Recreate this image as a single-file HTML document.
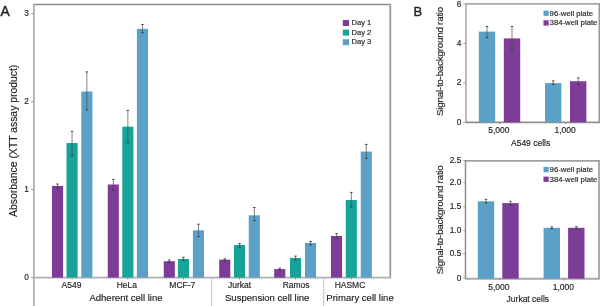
<!DOCTYPE html>
<html><head><meta charset="utf-8"><style>
html,body{margin:0;padding:0;background:#fff;}
svg{display:block;will-change:transform;}
text{font-family:"Liberation Sans", sans-serif;stroke:#222;stroke-width:0.15px;}
</style></head><body>
<svg width="600" height="306" viewBox="0 0 600 306">
<rect x="0" y="0" width="600" height="306" fill="#fff"/>
<line x1="33.10" y1="4.60" x2="391.10" y2="4.60" stroke="#8c8c8c" stroke-width="1.5"/>
<line x1="33.90" y1="4.00" x2="33.90" y2="306.00" stroke="#b0b0b0" stroke-width="1.8"/>
<line x1="390.30" y1="4.00" x2="390.30" y2="277.60" stroke="#9a9a9a" stroke-width="1.8"/>
<line x1="33.10" y1="277.70" x2="391.10" y2="277.70" stroke="#b0b0b0" stroke-width="1.8"/>
<line x1="211.60" y1="279.00" x2="211.60" y2="306.00" stroke="#d0d0d0" stroke-width="1.4"/>
<line x1="323.60" y1="279.00" x2="323.60" y2="306.00" stroke="#d0d0d0" stroke-width="1.4"/>
<line x1="31.20" y1="277.60" x2="33.50" y2="277.60" stroke="#999" stroke-width="1"/>
<text x="28.80" y="280.10" font-size="8.3" text-anchor="end" fill="#222" >0</text>
<line x1="31.20" y1="189.60" x2="33.50" y2="189.60" stroke="#999" stroke-width="1"/>
<text x="28.80" y="192.10" font-size="8.3" text-anchor="end" fill="#222" >1</text>
<line x1="31.20" y1="101.60" x2="33.50" y2="101.60" stroke="#999" stroke-width="1"/>
<text x="28.80" y="104.10" font-size="8.3" text-anchor="end" fill="#222" >2</text>
<line x1="31.20" y1="13.60" x2="33.50" y2="13.60" stroke="#999" stroke-width="1"/>
<text x="28.80" y="16.10" font-size="8.3" text-anchor="end" fill="#222" >3</text>
<rect x="52.00" y="185.90" width="11.10" height="91.70" fill="#7c3c98"/>
<rect x="66.50" y="143.00" width="11.10" height="134.60" fill="#17a397"/>
<rect x="81.30" y="91.50" width="11.10" height="186.10" fill="#5ba1c7"/>
<line x1="57.55" y1="184.00" x2="57.55" y2="188.00" stroke="#4a4a4a" stroke-width="0.7"/>
<line x1="56.35" y1="184.00" x2="58.75" y2="184.00" stroke="#333" stroke-width="0.9"/>
<line x1="56.35" y1="188.00" x2="58.75" y2="188.00" stroke="#333" stroke-width="0.9"/>
<line x1="72.05" y1="131.40" x2="72.05" y2="155.60" stroke="#4a4a4a" stroke-width="0.7"/>
<line x1="70.85" y1="131.40" x2="73.25" y2="131.40" stroke="#333" stroke-width="0.9"/>
<line x1="70.85" y1="155.60" x2="73.25" y2="155.60" stroke="#333" stroke-width="0.9"/>
<line x1="86.85" y1="71.90" x2="86.85" y2="110.00" stroke="#4a4a4a" stroke-width="0.7"/>
<line x1="85.65" y1="71.90" x2="88.05" y2="71.90" stroke="#333" stroke-width="0.9"/>
<line x1="85.65" y1="110.00" x2="88.05" y2="110.00" stroke="#333" stroke-width="0.9"/>
<line x1="72.05" y1="277.60" x2="72.05" y2="279.40" stroke="#8a8a8a" stroke-width="1"/>
<text x="71.50" y="288.00" font-size="8.5" text-anchor="middle" fill="#222" >A549</text>
<rect x="107.75" y="184.50" width="11.10" height="93.10" fill="#7c3c98"/>
<rect x="122.30" y="126.70" width="11.10" height="150.90" fill="#17a397"/>
<rect x="136.90" y="28.90" width="11.10" height="248.70" fill="#5ba1c7"/>
<line x1="113.30" y1="179.40" x2="113.30" y2="190.00" stroke="#4a4a4a" stroke-width="0.7"/>
<line x1="112.10" y1="179.40" x2="114.50" y2="179.40" stroke="#333" stroke-width="0.9"/>
<line x1="112.10" y1="190.00" x2="114.50" y2="190.00" stroke="#333" stroke-width="0.9"/>
<line x1="127.85" y1="110.40" x2="127.85" y2="142.60" stroke="#4a4a4a" stroke-width="0.7"/>
<line x1="126.65" y1="110.40" x2="129.05" y2="110.40" stroke="#333" stroke-width="0.9"/>
<line x1="126.65" y1="142.60" x2="129.05" y2="142.60" stroke="#333" stroke-width="0.9"/>
<line x1="142.45" y1="24.50" x2="142.45" y2="32.70" stroke="#4a4a4a" stroke-width="0.7"/>
<line x1="141.25" y1="24.50" x2="143.65" y2="24.50" stroke="#333" stroke-width="0.9"/>
<line x1="141.25" y1="32.70" x2="143.65" y2="32.70" stroke="#333" stroke-width="0.9"/>
<line x1="127.85" y1="277.60" x2="127.85" y2="279.40" stroke="#8a8a8a" stroke-width="1"/>
<text x="126.80" y="288.00" font-size="8.5" text-anchor="middle" fill="#222" >HeLa</text>
<rect x="163.75" y="261.20" width="11.10" height="16.40" fill="#7c3c98"/>
<rect x="177.90" y="259.00" width="11.10" height="18.60" fill="#17a397"/>
<rect x="192.90" y="230.30" width="11.10" height="47.30" fill="#5ba1c7"/>
<line x1="169.30" y1="260.00" x2="169.30" y2="262.50" stroke="#4a4a4a" stroke-width="0.7"/>
<line x1="168.10" y1="260.00" x2="170.50" y2="260.00" stroke="#333" stroke-width="0.9"/>
<line x1="168.10" y1="262.50" x2="170.50" y2="262.50" stroke="#333" stroke-width="0.9"/>
<line x1="183.45" y1="257.30" x2="183.45" y2="260.30" stroke="#4a4a4a" stroke-width="0.7"/>
<line x1="182.25" y1="257.30" x2="184.65" y2="257.30" stroke="#333" stroke-width="0.9"/>
<line x1="182.25" y1="260.30" x2="184.65" y2="260.30" stroke="#333" stroke-width="0.9"/>
<line x1="198.45" y1="224.20" x2="198.45" y2="236.50" stroke="#4a4a4a" stroke-width="0.7"/>
<line x1="197.25" y1="224.20" x2="199.65" y2="224.20" stroke="#333" stroke-width="0.9"/>
<line x1="197.25" y1="236.50" x2="199.65" y2="236.50" stroke="#333" stroke-width="0.9"/>
<line x1="183.45" y1="277.60" x2="183.45" y2="279.40" stroke="#8a8a8a" stroke-width="1"/>
<text x="182.35" y="288.00" font-size="8.5" text-anchor="middle" fill="#222" >MCF-7</text>
<rect x="219.20" y="259.60" width="11.10" height="18.00" fill="#7c3c98"/>
<rect x="234.00" y="245.00" width="11.10" height="32.60" fill="#17a397"/>
<rect x="248.75" y="215.30" width="11.10" height="62.30" fill="#5ba1c7"/>
<line x1="224.75" y1="258.80" x2="224.75" y2="260.60" stroke="#4a4a4a" stroke-width="0.7"/>
<line x1="223.55" y1="258.80" x2="225.95" y2="258.80" stroke="#333" stroke-width="0.9"/>
<line x1="223.55" y1="260.60" x2="225.95" y2="260.60" stroke="#333" stroke-width="0.9"/>
<line x1="239.55" y1="243.60" x2="239.55" y2="247.60" stroke="#4a4a4a" stroke-width="0.7"/>
<line x1="238.35" y1="243.60" x2="240.75" y2="243.60" stroke="#333" stroke-width="0.9"/>
<line x1="238.35" y1="247.60" x2="240.75" y2="247.60" stroke="#333" stroke-width="0.9"/>
<line x1="254.30" y1="207.50" x2="254.30" y2="220.50" stroke="#4a4a4a" stroke-width="0.7"/>
<line x1="253.10" y1="207.50" x2="255.50" y2="207.50" stroke="#333" stroke-width="0.9"/>
<line x1="253.10" y1="220.50" x2="255.50" y2="220.50" stroke="#333" stroke-width="0.9"/>
<line x1="239.55" y1="277.60" x2="239.55" y2="279.40" stroke="#8a8a8a" stroke-width="1"/>
<text x="239.55" y="288.00" font-size="8.5" text-anchor="middle" fill="#222" >Jurkat</text>
<rect x="274.20" y="269.10" width="11.10" height="8.50" fill="#7c3c98"/>
<rect x="290.00" y="258.00" width="11.10" height="19.60" fill="#17a397"/>
<rect x="305.00" y="243.00" width="11.10" height="34.60" fill="#5ba1c7"/>
<line x1="279.75" y1="268.20" x2="279.75" y2="270.10" stroke="#4a4a4a" stroke-width="0.7"/>
<line x1="278.55" y1="268.20" x2="280.95" y2="268.20" stroke="#333" stroke-width="0.9"/>
<line x1="278.55" y1="270.10" x2="280.95" y2="270.10" stroke="#333" stroke-width="0.9"/>
<line x1="295.55" y1="256.10" x2="295.55" y2="260.00" stroke="#4a4a4a" stroke-width="0.7"/>
<line x1="294.35" y1="256.10" x2="296.75" y2="256.10" stroke="#333" stroke-width="0.9"/>
<line x1="294.35" y1="260.00" x2="296.75" y2="260.00" stroke="#333" stroke-width="0.9"/>
<line x1="310.55" y1="241.40" x2="310.55" y2="245.00" stroke="#4a4a4a" stroke-width="0.7"/>
<line x1="309.35" y1="241.40" x2="311.75" y2="241.40" stroke="#333" stroke-width="0.9"/>
<line x1="309.35" y1="245.00" x2="311.75" y2="245.00" stroke="#333" stroke-width="0.9"/>
<line x1="295.55" y1="277.60" x2="295.55" y2="279.40" stroke="#8a8a8a" stroke-width="1"/>
<text x="296.15" y="288.00" font-size="8.5" text-anchor="middle" fill="#222" >Ramos</text>
<rect x="331.00" y="236.00" width="11.10" height="41.60" fill="#7c3c98"/>
<rect x="345.75" y="200.00" width="11.10" height="77.60" fill="#17a397"/>
<rect x="360.75" y="151.60" width="11.10" height="126.00" fill="#5ba1c7"/>
<line x1="336.55" y1="233.60" x2="336.55" y2="238.20" stroke="#4a4a4a" stroke-width="0.7"/>
<line x1="335.35" y1="233.60" x2="337.75" y2="233.60" stroke="#333" stroke-width="0.9"/>
<line x1="335.35" y1="238.20" x2="337.75" y2="238.20" stroke="#333" stroke-width="0.9"/>
<line x1="351.30" y1="192.40" x2="351.30" y2="207.00" stroke="#4a4a4a" stroke-width="0.7"/>
<line x1="350.10" y1="192.40" x2="352.50" y2="192.40" stroke="#333" stroke-width="0.9"/>
<line x1="350.10" y1="207.00" x2="352.50" y2="207.00" stroke="#333" stroke-width="0.9"/>
<line x1="366.30" y1="144.40" x2="366.30" y2="158.40" stroke="#4a4a4a" stroke-width="0.7"/>
<line x1="365.10" y1="144.40" x2="367.50" y2="144.40" stroke="#333" stroke-width="0.9"/>
<line x1="365.10" y1="158.40" x2="367.50" y2="158.40" stroke="#333" stroke-width="0.9"/>
<line x1="351.30" y1="277.60" x2="351.30" y2="279.40" stroke="#8a8a8a" stroke-width="1"/>
<text x="350.00" y="288.00" font-size="8.5" text-anchor="middle" fill="#222" >HASMC</text>
<text x="126.00" y="301.40" font-size="9.55" text-anchor="middle" fill="#222" >Adherent cell line</text>
<text x="267.20" y="301.40" font-size="9.55" text-anchor="middle" fill="#222" >Suspension cell line</text>
<text x="360.00" y="301.40" font-size="9.55" text-anchor="middle" fill="#222" >Primary cell line</text>
<text x="0.00" y="0.00" font-size="10.4" text-anchor="middle" fill="#222" transform="translate(17.3,140.8) rotate(-90)">Absorbance (XTT assay product)</text>
<text x="0.50" y="16.00" font-size="13.8" text-anchor="start" fill="#222" style="stroke-width:0.4px">A</text>
<rect x="342.80" y="20.00" width="6.20" height="6.00" fill="#7c3c98"/>
<text x="351.50" y="25.10" font-size="7.6" text-anchor="start" fill="#222" >Day 1</text>
<rect x="342.80" y="29.60" width="6.20" height="6.00" fill="#17a397"/>
<text x="351.50" y="34.70" font-size="7.6" text-anchor="start" fill="#222" >Day 2</text>
<rect x="342.80" y="39.20" width="6.20" height="6.00" fill="#5ba1c7"/>
<text x="351.50" y="44.30" font-size="7.6" text-anchor="start" fill="#222" >Day 3</text>
<text x="413.40" y="16.00" font-size="13.0" text-anchor="start" fill="#222" style="stroke-width:0.4px">B</text>
<line x1="466.00" y1="3.90" x2="600.10" y2="3.90" stroke="#a8a8a8" stroke-width="1.8"/>
<line x1="466.00" y1="3.10" x2="466.00" y2="122.40" stroke="#b5b5b5" stroke-width="1.8"/>
<line x1="599.30" y1="3.10" x2="599.30" y2="122.40" stroke="#999" stroke-width="1.6"/>
<line x1="465.50" y1="122.40" x2="600.10" y2="122.40" stroke="#909090" stroke-width="1.6"/>
<line x1="463.30" y1="122.30" x2="465.60" y2="122.30" stroke="#999" stroke-width="1"/>
<text x="461.30" y="124.80" font-size="8.3" text-anchor="end" fill="#222" >0</text>
<line x1="463.30" y1="82.87" x2="465.60" y2="82.87" stroke="#999" stroke-width="1"/>
<text x="461.30" y="85.37" font-size="8.3" text-anchor="end" fill="#222" >2</text>
<line x1="463.30" y1="43.43" x2="465.60" y2="43.43" stroke="#999" stroke-width="1"/>
<text x="461.30" y="45.93" font-size="8.3" text-anchor="end" fill="#222" >4</text>
<line x1="463.30" y1="4.00" x2="465.60" y2="4.00" stroke="#999" stroke-width="1"/>
<text x="461.30" y="6.50" font-size="8.3" text-anchor="end" fill="#222" >6</text>
<rect x="478.80" y="31.60" width="16.40" height="90.70" fill="#5ba1c7"/>
<rect x="503.80" y="38.40" width="16.40" height="83.90" fill="#7c3c98"/>
<rect x="545.00" y="83.10" width="16.40" height="39.20" fill="#5ba1c7"/>
<rect x="570.00" y="81.25" width="16.40" height="41.05" fill="#7c3c98"/>
<line x1="487.00" y1="26.50" x2="487.00" y2="37.50" stroke="#4a4a4a" stroke-width="0.7"/>
<line x1="485.80" y1="26.50" x2="488.20" y2="26.50" stroke="#333" stroke-width="0.9"/>
<line x1="485.80" y1="37.50" x2="488.20" y2="37.50" stroke="#333" stroke-width="0.9"/>
<line x1="512.00" y1="26.50" x2="512.00" y2="50.90" stroke="#4a4a4a" stroke-width="0.7"/>
<line x1="510.80" y1="26.50" x2="513.20" y2="26.50" stroke="#333" stroke-width="0.9"/>
<line x1="510.80" y1="50.90" x2="513.20" y2="50.90" stroke="#333" stroke-width="0.9"/>
<line x1="553.20" y1="80.90" x2="553.20" y2="84.40" stroke="#4a4a4a" stroke-width="0.7"/>
<line x1="552.00" y1="80.90" x2="554.40" y2="80.90" stroke="#333" stroke-width="0.9"/>
<line x1="552.00" y1="84.40" x2="554.40" y2="84.40" stroke="#333" stroke-width="0.9"/>
<line x1="578.20" y1="77.90" x2="578.20" y2="84.40" stroke="#4a4a4a" stroke-width="0.7"/>
<line x1="577.00" y1="77.90" x2="579.40" y2="77.90" stroke="#333" stroke-width="0.9"/>
<line x1="577.00" y1="84.40" x2="579.40" y2="84.40" stroke="#333" stroke-width="0.9"/>
<line x1="499.30" y1="122.30" x2="499.30" y2="124.10" stroke="#8a8a8a" stroke-width="1"/>
<text x="498.80" y="133.40" font-size="8.5" text-anchor="middle" fill="#222" >5,000</text>
<line x1="565.60" y1="122.30" x2="565.60" y2="124.10" stroke="#8a8a8a" stroke-width="1"/>
<text x="565.10" y="133.40" font-size="8.5" text-anchor="middle" fill="#222" >1,000</text>
<text x="530.60" y="145.90" font-size="8.5" text-anchor="middle" fill="#222" >A549 cells</text>
<rect x="543.50" y="10.60" width="5.20" height="5.30" fill="#5ba1c7"/>
<text x="549.60" y="15.50" font-size="7.75" text-anchor="start" fill="#222" >96-well plate</text>
<rect x="543.50" y="20.30" width="5.20" height="5.30" fill="#7c3c98"/>
<text x="549.60" y="25.20" font-size="7.75" text-anchor="start" fill="#222" >384-well plate</text>
<text x="0.00" y="0.00" font-size="9.9" text-anchor="middle" fill="#222" letter-spacing="-0.26" transform="translate(443.2,61.5) rotate(-90)">Signal-to-background ratio</text>
<line x1="465.50" y1="160.80" x2="599.80" y2="160.80" stroke="#a0a0a0" stroke-width="1.8"/>
<line x1="465.50" y1="160.00" x2="465.50" y2="278.80" stroke="#8c8c8c" stroke-width="1.5"/>
<line x1="599.00" y1="160.00" x2="599.00" y2="278.80" stroke="#999" stroke-width="1.6"/>
<line x1="465.00" y1="278.80" x2="599.80" y2="278.80" stroke="#a8a8a8" stroke-width="2.0"/>
<line x1="463.30" y1="278.00" x2="465.60" y2="278.00" stroke="#999" stroke-width="1"/>
<text x="461.30" y="280.50" font-size="8.3" text-anchor="end" fill="#222" >0</text>
<line x1="463.30" y1="253.70" x2="465.60" y2="253.70" stroke="#999" stroke-width="1"/>
<text x="461.30" y="256.20" font-size="8.3" text-anchor="end" fill="#222" >0.5</text>
<line x1="463.30" y1="230.60" x2="465.60" y2="230.60" stroke="#999" stroke-width="1"/>
<text x="461.30" y="233.10" font-size="8.3" text-anchor="end" fill="#222" >1.0</text>
<line x1="463.30" y1="206.60" x2="465.60" y2="206.60" stroke="#999" stroke-width="1"/>
<text x="461.30" y="209.10" font-size="8.3" text-anchor="end" fill="#222" >1.5</text>
<line x1="463.30" y1="182.60" x2="465.60" y2="182.60" stroke="#999" stroke-width="1"/>
<text x="461.30" y="185.10" font-size="8.3" text-anchor="end" fill="#222" >2.0</text>
<line x1="463.30" y1="160.50" x2="465.60" y2="160.50" stroke="#999" stroke-width="1"/>
<text x="461.30" y="163.00" font-size="8.3" text-anchor="end" fill="#222" >2.5</text>
<rect x="477.80" y="201.30" width="16.40" height="77.30" fill="#5ba1c7"/>
<rect x="502.30" y="203.10" width="16.40" height="75.50" fill="#7c3c98"/>
<rect x="543.60" y="227.80" width="16.40" height="50.80" fill="#5ba1c7"/>
<rect x="568.10" y="227.80" width="16.40" height="50.80" fill="#7c3c98"/>
<line x1="486.00" y1="199.40" x2="486.00" y2="203.10" stroke="#4a4a4a" stroke-width="0.7"/>
<line x1="484.80" y1="199.40" x2="487.20" y2="199.40" stroke="#333" stroke-width="0.9"/>
<line x1="484.80" y1="203.10" x2="487.20" y2="203.10" stroke="#333" stroke-width="0.9"/>
<line x1="510.50" y1="201.30" x2="510.50" y2="205.00" stroke="#4a4a4a" stroke-width="0.7"/>
<line x1="509.30" y1="201.30" x2="511.70" y2="201.30" stroke="#333" stroke-width="0.9"/>
<line x1="509.30" y1="205.00" x2="511.70" y2="205.00" stroke="#333" stroke-width="0.9"/>
<line x1="551.80" y1="226.90" x2="551.80" y2="228.70" stroke="#4a4a4a" stroke-width="0.7"/>
<line x1="550.60" y1="226.90" x2="553.00" y2="226.90" stroke="#333" stroke-width="0.9"/>
<line x1="550.60" y1="228.70" x2="553.00" y2="228.70" stroke="#333" stroke-width="0.9"/>
<line x1="576.30" y1="226.60" x2="576.30" y2="229.00" stroke="#4a4a4a" stroke-width="0.7"/>
<line x1="575.10" y1="226.60" x2="577.50" y2="226.60" stroke="#333" stroke-width="0.9"/>
<line x1="575.10" y1="229.00" x2="577.50" y2="229.00" stroke="#333" stroke-width="0.9"/>
<line x1="499.30" y1="278.60" x2="499.30" y2="280.40" stroke="#8a8a8a" stroke-width="1"/>
<text x="498.80" y="289.70" font-size="8.5" text-anchor="middle" fill="#222" >5,000</text>
<line x1="563.80" y1="278.60" x2="563.80" y2="280.40" stroke="#8a8a8a" stroke-width="1"/>
<text x="563.30" y="289.70" font-size="8.5" text-anchor="middle" fill="#222" >1,000</text>
<text x="527.85" y="301.70" font-size="8.5" text-anchor="middle" fill="#222" >Jurkat cells</text>
<rect x="543.50" y="166.90" width="5.20" height="5.30" fill="#5ba1c7"/>
<text x="549.60" y="171.80" font-size="7.75" text-anchor="start" fill="#222" >96-well plate</text>
<rect x="543.50" y="176.60" width="5.20" height="5.30" fill="#7c3c98"/>
<text x="549.60" y="181.50" font-size="7.75" text-anchor="start" fill="#222" >384-well plate</text>
<text x="0.00" y="0.00" font-size="9.9" text-anchor="middle" fill="#222" letter-spacing="-0.26" transform="translate(443.2,220.0) rotate(-90)">Signal-to-background ratio</text>
</svg>
</body></html>
